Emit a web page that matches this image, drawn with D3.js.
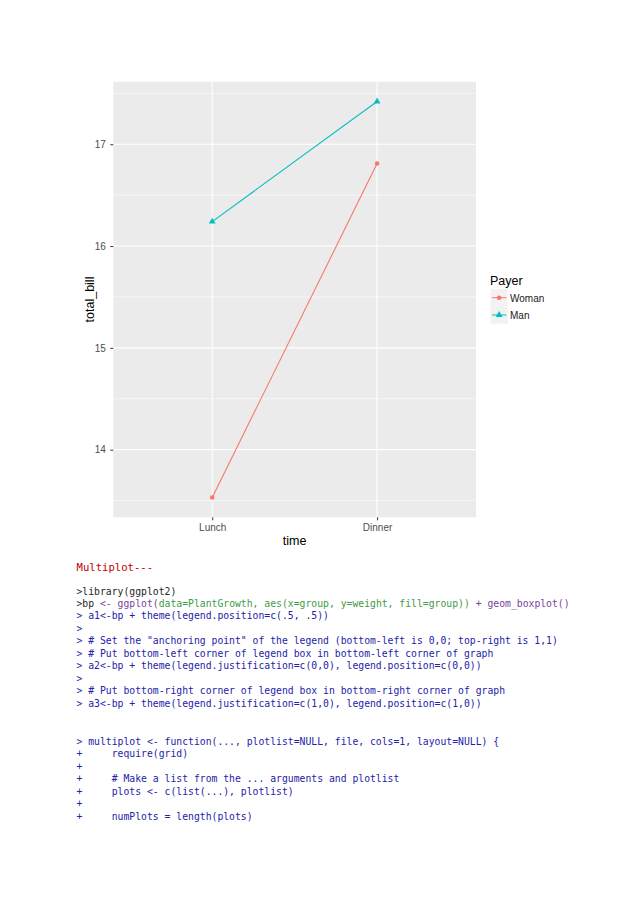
<!DOCTYPE html>
<html>
<head>
<meta charset="utf-8">
<script src="https://cdn.jsdelivr.net/npm/d3@7"></script>
<style>
  body { margin: 0; background: #fff; }
  svg { display: block; }
  .code { font-family: "DejaVu Sans Mono", monospace; font-size: 9.75px; white-space: pre; }
</style>
</head>
<body>
<svg id="vis"></svg>
<script>
WIDTH = 638;
HEIGHT = 903;

// chart data
const times = ["Lunch", "Dinner"];
const payers = ["Woman", "Man"];
const womanBill = [13.53, 16.81];
const manBill = [16.24, 17.42];
const yTicks = [14, 15, 16, 17];
const yMinor = [13.5, 14.5, 15.5, 16.5, 17.5];
const payerColors = ["#F8766D", "#00BFC4"];

// code lines under the chart
const codeBlock1 = [
    [[">library(ggplot2)", "#262626"]],
    [[">bp ", "#262626"], ["<- ggplot(", "#7b3f9e"], ["data=PlantGrowth, aes(x=group, y=weight, fill=group))", "#3f9b46"], [" + geom_boxplot()", "#7b3f9e"]],
    [["> a1<-bp + theme(legend.position=c(.5, .5))", "#2323a8"]],
    [[">", "#2323a8"]],
    [["> # Set the \"anchoring point\" of the legend (bottom-left is 0,0; top-right is 1,1)", "#2323a8"]],
    [["> # Put bottom-left corner of legend box in bottom-left corner of graph", "#2323a8"]],
    [["> a2<-bp + theme(legend.justification=c(0,0), legend.position=c(0,0))", "#2323a8"]],
    [[">", "#2323a8"]],
    [["> # Put bottom-right corner of legend box in bottom-right corner of graph", "#2323a8"]],
    [["> a3<-bp + theme(legend.justification=c(1,0), legend.position=c(1,0))", "#2323a8"]]
];
const codeBlock2 = [
    "> multiplot <- function(..., plotlist=NULL, file, cols=1, layout=NULL) {",
    "+     require(grid)",
    "+",
    "+     # Make a list from the ... arguments and plotlist",
    "+     plots <- c(list(...), plotlist)",
    "+",
    "+     numPlots = length(plots)"
];

const SVG = d3.select("#vis")
    .attr("width", WIDTH)
    .attr("height", HEIGHT);

const panel = {left: 113.3, right: 476, top: 81.7, bottom: 517.3};

const x = d3.scalePoint()
    .domain(times)
    .range([panel.left, panel.right])
    .padding(0.6);

const allVals = womanBill.concat(manBill);
const ext = d3.extent(allVals);
const pad = (ext[1] - ext[0]) * 0.05;
const y = d3.scaleLinear()
    .domain([ext[0] - pad, ext[1] + pad])
    .range([panel.bottom, panel.top]);

// panel background
SVG.append("rect")
    .attr("x", panel.left).attr("y", panel.top)
    .attr("width", panel.right - panel.left)
    .attr("height", panel.bottom - panel.top)
    .attr("fill", "#ebebeb");

const grid = SVG.append("g").attr("stroke", "#fff");
grid.selectAll(".minor").data(yMinor).join("line")
    .attr("x1", panel.left).attr("x2", panel.right)
    .attr("y1", d => y(d)).attr("y2", d => y(d))
    .attr("stroke-width", 0.55);
grid.selectAll(".majY").data(yTicks).join("line")
    .attr("x1", panel.left).attr("x2", panel.right)
    .attr("y1", d => y(d)).attr("y2", d => y(d))
    .attr("stroke-width", 1.1);
grid.selectAll(".majX").data(times).join("line")
    .attr("x1", d => x(d)).attr("x2", d => x(d))
    .attr("y1", panel.top).attr("y2", panel.bottom)
    .attr("stroke-width", 1.1);

// axes
const yAxis = SVG.append("g")
    .attr("transform", `translate(${panel.left},0)`)
    .call(d3.axisLeft(y).tickValues(yTicks).tickFormat(d3.format("d")).tickSize(3).tickPadding(4.5));
const xAxis = SVG.append("g")
    .attr("transform", `translate(0,${panel.bottom})`)
    .call(d3.axisBottom(x).tickSize(3).tickPadding(3.5));
[yAxis, xAxis].forEach(a => {
    a.select(".domain").remove();
    a.selectAll("line").attr("stroke", "#333");
    a.selectAll("text")
        .attr("fill", "#4d4d4d")
        .style("font-family", "Liberation Sans, Arial, sans-serif")
        .style("font-size", "10px");
});

SVG.append("text")
    .attr("x", (panel.left + panel.right) / 2).attr("y", 545)
    .attr("text-anchor", "middle")
    .style("font-family", "Liberation Sans, Arial, sans-serif")
    .style("font-size", "12.5px")
    .text("time");
SVG.append("text")
    .attr("transform", `translate(94,${(panel.top + panel.bottom) / 2}) rotate(-90)`)
    .attr("text-anchor", "middle")
    .style("font-family", "Liberation Sans, Arial, sans-serif")
    .style("font-size", "12.5px")
    .text("total_bill");

// lines and points
const series = [womanBill, manBill];
const line = d3.line().x((d, i) => x(times[i])).y(d => y(d));
series.forEach((s, k) => {
    SVG.append("path")
        .attr("d", line(s))
        .attr("fill", "none")
        .attr("stroke", payerColors[k])
        .attr("stroke-width", 1.1);
    SVG.selectAll(null).data(s).join("path")
        .attr("transform", (d, i) => `translate(${x(times[i])},${y(d)})`)
        .attr("d", d3.symbol().type(k === 0 ? d3.symbolCircle : d3.symbolTriangle).size(k === 0 ? 16 : 20))
        .attr("fill", payerColors[k]);
});

// legend
const legend = SVG.append("g").attr("transform", "translate(490,0)");
legend.append("text")
    .attr("x", 0).attr("y", 285)
    .style("font-family", "Liberation Sans, Arial, sans-serif")
    .style("font-size", "12.5px")
    .text("Payer");
payers.forEach((p, k) => {
    const cy = 297.7 + k * 17.3;
    legend.append("rect")
        .attr("x", 0.5).attr("y", cy - 8.65)
        .attr("width", 17.3).attr("height", 17.3)
        .attr("fill", "#f2f2f2");
    legend.append("line")
        .attr("x1", 2).attr("x2", 16.3)
        .attr("y1", cy).attr("y2", cy)
        .attr("stroke", payerColors[k]);
    legend.append("path")
        .attr("transform", `translate(9.15,${cy})`)
        .attr("d", d3.symbol().type(k === 0 ? d3.symbolCircle : d3.symbolTriangle).size(k === 0 ? 16 : 20))
        .attr("fill", payerColors[k]);
    legend.append("text")
        .attr("x", 20).attr("y", cy + 3.8)
        .style("font-family", "Liberation Sans, Arial, sans-serif")
        .style("font-size", "10px")
        .attr("fill", "#1a1a1a")
        .text(p);
});

// code text
SVG.append("text")
    .attr("class", "code")
    .attr("x", 76.5).attr("y", 571)
    .style("font-size", "10.6px")
    .attr("fill", "#c00000")
    .text("Multiplot---");

codeBlock1.forEach((parts, i) => {
    const t = SVG.append("text")
        .attr("class", "code")
        .attr("x", 76.5).attr("y", 594.5 + i * 12.45);
    parts.forEach(p => t.append("tspan").attr("fill", p[1]).text(p[0]));
});
codeBlock2.forEach((s, i) => {
    SVG.append("text")
        .attr("class", "code")
        .attr("x", 76.5).attr("y", 744.5 + i * 12.5)
        .attr("fill", "#2323a8")
        .text(s);
});
</script>
</body>
</html>
